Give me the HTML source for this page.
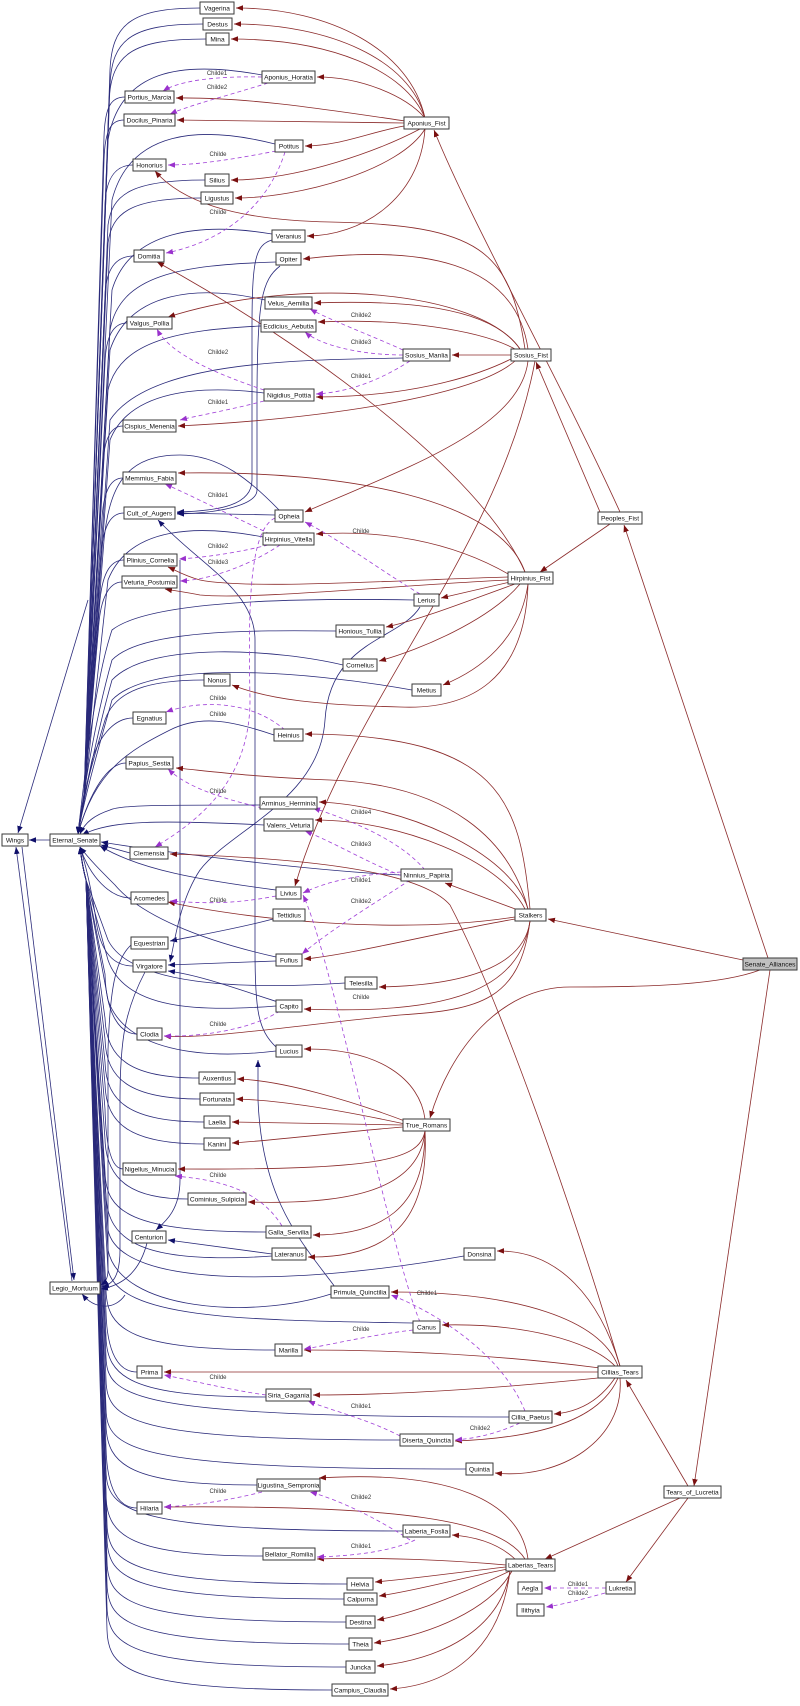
<!DOCTYPE html>
<html><head><meta charset="utf-8"><style>
html,body{margin:0;padding:0;background:#fff;width:800px;height:1706px;overflow:hidden}
svg{display:block}
.n rect{fill:#fff;stroke:#3a3a3a;stroke-width:1}
.n text{font-family:"Liberation Sans",sans-serif;font-size:6.6px;text-anchor:middle;fill:#111}
.r{fill:none;stroke:#8b2a2a;stroke-width:.8}
.b{fill:none;stroke:#2a2a7a;stroke-width:.8}
.p{fill:none;stroke:#a040d8;stroke-width:.8;stroke-dasharray:4,3}
.l{font-family:"Liberation Sans",sans-serif;font-size:6px;fill:#333;text-anchor:middle}
</style></head><body>
<svg width="800" height="1706" viewBox="0 0 800 1706" xmlns="http://www.w3.org/2000/svg">
<defs>
<marker id="mr" viewBox="0 0 10 10" refX="10" refY="5" markerWidth="7" markerHeight="7" orient="auto" markerUnits="userSpaceOnUse"><path d="M0,1L10,5L0,9z" fill="#7a1010"/></marker>
<marker id="mb" viewBox="0 0 10 10" refX="10" refY="5" markerWidth="7" markerHeight="7" orient="auto" markerUnits="userSpaceOnUse"><path d="M0,1L10,5L0,9z" fill="#10106a"/></marker>
<marker id="mp" viewBox="0 0 10 10" refX="10" refY="5" markerWidth="7" markerHeight="7" orient="auto" markerUnits="userSpaceOnUse"><path d="M0,1L10,5L0,9z" fill="#9a32cd"/></marker>
</defs>

<!-- BLUE edges to Eternal_Senate (above) -->
<g class="b" marker-end="url(#mb)">
<path d="M200,8 C130,8 112,25 110,70 L84,800 C81,815 79,825 78,834"/>
<path d="M203,24 C130,24 112,40 110,85 L84,800 C81,815 79,825 78,834"/>
<path d="M206,39 C130,39 112,55 109,100 L84,800 C81,815 79,825 78,834"/>
<path d="M262,75 C180,60 120,70 108,140 L84,800 C81,815 79,825 78,834"/>
<path d="M125,97 C112,97 105,105 104,137 L84,800 C81,815 79,825 78,834"/>
<path d="M124,120 C112,120 105,128 104,160 L84,800 C81,815 79,825 78,834"/>
<path d="M275,144 C200,125 130,130 112,200 L84,800 C81,815 79,825 78,834"/>
<path d="M133,165 C118,165 106,175 105,205 L84,800 C81,815 79,825 78,834"/>
<path d="M205,180 C130,180 112,195 108,225 L84,800 C81,815 79,825 78,834"/>
<path d="M201,198 C130,198 112,213 108,243 L84,800 C81,815 79,825 78,834"/>
<path d="M272,234 C200,222 130,230 112,290 L84,800 C81,815 79,825 78,834"/>
<path d="M134,256 C118,256 106,266 105,296 L84,800 C81,815 79,825 78,834"/>
<path d="M276,262 C180,265 120,275 110,330 L84,800 C81,815 79,825 78,834"/>
<path d="M265,300 C200,285 130,290 110,350 L84,800 C81,815 79,825 78,834"/>
<path d="M127,323 C115,323 106,333 105,363 L84,800 C81,815 79,825 78,834"/>
<path d="M261,326 C180,330 120,340 108,390 L84,800 C81,815 79,825 78,834"/>
<path d="M403,358 C300,360 150,360 110,420 L84,800 C81,815 79,825 78,834"/>
<path d="M264,393 C200,385 130,390 110,440 L84,800 C81,815 79,825 78,834"/>
<path d="M123,426 C112,426 104,436 103,466 L84,800 C81,815 79,825 78,834"/>
<path d="M123,478 C112,478 104,488 102,518 L84,800 C81,815 79,825 78,834"/>
<path d="M124,513 C112,513 104,523 101,553 L84,800 C81,815 79,825 78,834"/>
<path d="M280,511 C250,480 220,455 180,455 C130,455 110,480 104,540 L84,800 C81,815 79,825 78,834"/>
<path d="M263,537 C200,525 130,525 108,580 L84,800 C81,815 79,825 78,834"/>
<path d="M124,560 C112,560 103,570 100,600 L84,800 C81,815 79,825 78,834"/>
<path d="M122,582 C112,582 102,592 99,622 L84,800 C81,815 79,825 78,834"/>
<path d="M414,600 C300,598 150,600 112,630 C95,680 84,780 78,834"/>
<path d="M336,631 C250,630 140,630 112,660 C95,720 84,790 78,834"/>
<path d="M343,665 C280,650 150,640 112,680 C95,740 84,800 78,834"/>
<path d="M204,680 C150,680 115,690 105,720 C90,770 82,800 78,834"/>
<path d="M412,690 C300,670 150,660 112,700 C95,760 84,800 78,834"/>
<path d="M133,718 C112,718 98,740 92,760 C86,790 80,810 78,834"/>
<path d="M274,735 C230,720 200,715 170,730 C130,750 95,770 78,834"/>
<path d="M126,763 C108,763 90,791 78,834"/>
<path d="M260,805 C160,805 120,805 110,810 C95,815 85,822 80,834"/>
<path d="M264,825 C160,820 110,820 82,835"/>
</g>

<!-- BLUE edges to Eternal_Senate (below) -->
<g class="b" marker-end="url(#mb)">
<path d="M130,853 L101,845"/>
<path d="M401,875 C300,870 150,850 101,842"/>
<path d="M276,890 C200,880 140,870 100,846"/>
<path d="M131,898 C110,898 90,877 80,847"/>
<path d="M276,957 C200,940 140,915 115,885 C100,870 90,860 80,847"/>
<path d="M133,966 C112,966 100,950 96,920 C90,880 84,860 80,847"/>
<path d="M345,983 C240,990 130,985 108,940 L86,880 C82,865 81,855 80,847"/>
<path d="M276,1006 C200,1012 125,1010 108,960 L86,880 C82,865 81,855 80,847"/>
<path d="M137,1034 C120,1034 106,1014 105,974 L86,880 C82,865 81,855 80,847"/>
<path d="M276,1051 C200,1060 125,1050 108,1000 L86,880 C82,865 81,855 80,847"/>
<path d="M199,1078 C130,1078 106,1058 105,1018 L86,880 C82,865 81,855 80,847"/>
<path d="M200,1099 C130,1099 106,1079 105,1039 L86,880 C82,865 81,855 80,847"/>
<path d="M204,1122 C130,1122 106,1102 105,1062 L86,880 C82,865 81,855 80,847"/>
<path d="M204,1144 C130,1144 106,1124 105,1084 L86,880 C82,865 81,855 80,847"/>
<path d="M123,1169 C112,1169 106,1149 105,1109 L86,880 C82,865 81,855 80,847"/>
<path d="M188,1199 C130,1199 106,1179 105,1139 L86,880 C82,865 81,855 80,847"/>
<path d="M266,1232 C130,1232 106,1212 105,1172 L86,880 C82,865 81,855 80,847"/>
<path d="M272,1256 C140,1265 108,1240 106,1196 L86,880 C82,865 81,855 80,847"/>
<path d="M464,1256 C300,1285 120,1290 108,1230 L86,880 C82,865 81,855 80,847"/>
<path d="M331,1294 C250,1320 120,1310 108,1250 L86,880 C82,865 81,855 80,847"/>
<path d="M413,1323 C250,1320 120,1320 108,1270 L86,880 C82,865 81,855 80,847"/>
<path d="M275,1350 C130,1350 107,1330 106,1290 L86,880 C82,865 81,855 80,847"/>
<path d="M137,1372 C118,1372 107,1352 106,1312 L86,880 C82,865 81,855 80,847"/>
<path d="M266,1397 C130,1397 107,1377 106,1337 L86,880 C82,865 81,855 80,847"/>
<path d="M509,1417 C130,1417 107,1397 106,1357 L86,880 C82,865 81,855 80,847"/>
<path d="M400,1440 C130,1440 107,1420 106,1380 L86,880 C82,865 81,855 80,847"/>
<path d="M466,1469 C130,1469 107,1449 106,1409 L86,880 C82,865 81,855 80,847"/>
<path d="M257,1485 C130,1485 107,1465 106,1425 L86,880 C82,865 81,855 80,847"/>
<path d="M137,1508 C118,1508 107,1488 106,1448 L86,880 C82,865 81,855 80,847"/>
<path d="M403,1531 C130,1531 107,1511 106,1471 L86,880 C82,865 81,855 80,847"/>
<path d="M263,1556 C130,1556 107,1536 106,1496 L86,880 C82,865 81,855 80,847"/>
<path d="M347,1584 C130,1584 108,1564 107,1524 L86,880 C82,865 81,855 80,847"/>
<path d="M344,1599 C130,1599 108,1579 107,1539 L86,880 C82,865 81,855 80,847"/>
<path d="M346,1622 C130,1622 108,1602 107,1562 L86,880 C82,865 81,855 80,847"/>
<path d="M349,1644 C130,1644 108,1624 107,1584 L86,880 C82,865 81,855 80,847"/>
<path d="M346,1667 C130,1667 108,1647 107,1607 L86,880 C82,865 81,855 80,847"/>
<path d="M332,1690 C130,1690 108,1670 107,1630 L86,880 C82,865 81,855 80,847"/>
</g>

<!-- other BLUE edges -->
<g class="b" marker-end="url(#mb)">
<path d="M50,840 L29,840"/>
<path d="M72,1281 L16,847"/>
<path d="M22,847 L74,1280"/>
<path d="M88,600 L18,833"/>
<path d="M272,240 C255,245 252,260 252,330 L252,480 C252,505 220,511 177,512"/>
<path d="M280,266 C262,280 257,300 257,400 L257,490 C257,505 220,513 177,514"/>
<path d="M275,515 L177,513"/>
<path d="M276,1047 C258,1030 255,1010 255,950 L255,640 C255,590 200,565 158,520"/>
<path d="M335,1287 C300,1240 262,1200 258,1100 L258,1060"/>
<path d="M180,560 L180,1180 C180,1210 165,1222 156,1230"/>
<path d="M145,972 C125,1010 120,1040 120,1100 L120,1250 C120,1280 110,1285 102,1287"/>
<path d="M131,945 C115,960 110,990 108,1050 L108,1270 C108,1280 104,1283 101,1285"/>
<path d="M147,1243 C140,1270 125,1285 101,1289"/>
<path d="M272,1254 L168,1240"/>
<path d="M273,919 C240,928 200,935 170,941"/>
<path d="M276,961 L168,965"/>
<path d="M278,1002 C240,990 200,975 168,971"/>
<path d="M420,607 C400,640 330,640 325,720 C320,800 230,830 200,870 C180,900 175,940 170,962"/>
<path d="M125,1295 C115,1310 95,1310 82,1294"/>
</g>

<!-- RED edges -->
<g class="r" marker-end="url(#mr)">
<path d="M425,118 C410,50 330,8 236,8"/>
<path d="M425,118 C410,60 330,24 234,24"/>
<path d="M425,118 C405,70 330,39 231,39"/>
<path d="M425,118 C405,95 360,77 317,77"/>
<path d="M405,121 C330,110 250,97 176,98"/>
<path d="M404,123 L177,120"/>
<path d="M404,126 C370,132 340,146 305,146"/>
<path d="M420,129 C380,150 300,180 231,180"/>
<path d="M425,129 C400,170 300,198 235,198"/>
<path d="M425,129 C420,200 360,236 307,236"/>
<path d="M525,349 C510,250 480,225 330,222 C230,220 180,200 155,171"/>
<path d="M528,349 C515,260 420,245 303,259"/>
<path d="M520,349 C490,305 400,300 314,303"/>
<path d="M520,349 C480,290 300,275 168,317"/>
<path d="M515,349 C480,330 400,318 318,322"/>
<path d="M511,355 L452,355"/>
<path d="M513,358 C470,380 400,397 316,397"/>
<path d="M515,361 C470,400 300,420 178,426"/>
<path d="M528,361 C520,430 400,470 305,512"/>
<path d="M535,361 C500,550 350,700 295,886"/>
<path d="M620,512 C560,380 470,220 434,130"/>
<path d="M600,512 L536,362"/>
<path d="M610,524 L540,572"/>
<path d="M768,958 L624,525"/>
<path d="M743,960 L548,919"/>
<path d="M760,970 C720,985 650,987 570,987 C500,987 450,1050 430,1118"/>
<path d="M770,970 L694,1486"/>
<path d="M525,572 C480,470 300,340 157,262"/>
<path d="M525,572 C500,500 350,470 178,473"/>
<path d="M510,575 C450,540 380,530 316,534"/>
<path d="M508,577 C400,580 250,590 200,580 C185,576 175,570 168,567"/>
<path d="M508,580 C400,585 250,600 200,595 C185,592 170,590 165,589"/>
<path d="M510,582 L441,598"/>
<path d="M515,584 C470,600 420,620 386,627"/>
<path d="M520,584 C490,620 420,650 379,661"/>
<path d="M528,584 C520,640 480,670 443,685"/>
<path d="M528,584 C525,680 470,710 400,707 C320,705 270,700 232,685"/>
<path d="M530,909 C520,800 500,735 305,734"/>
<path d="M528,909 C510,840 450,785 330,780 C250,777 200,770 176,768"/>
<path d="M528,909 C510,850 400,805 319,802"/>
<path d="M525,909 C500,860 400,820 315,820"/>
<path d="M518,910 L445,883"/>
<path d="M515,917 C400,935 250,920 168,902"/>
<path d="M515,919 C450,930 350,955 304,959"/>
<path d="M530,921 C525,960 480,985 379,987"/>
<path d="M530,921 C520,990 450,1015 304,1009"/>
<path d="M530,921 C520,1000 480,1010 400,1015 C300,1025 200,1040 164,1036"/>
<path d="M425,1119 C420,1080 380,1048 304,1049"/>
<path d="M410,1123 C350,1100 280,1080 237,1079"/>
<path d="M405,1124 C340,1110 280,1100 236,1099"/>
<path d="M403,1125 L232,1122"/>
<path d="M403,1127 C340,1132 280,1140 232,1143"/>
<path d="M425,1131 C420,1160 380,1170 178,1169"/>
<path d="M425,1131 C420,1190 350,1205 248,1202"/>
<path d="M425,1131 C425,1210 380,1235 313,1235"/>
<path d="M425,1131 C430,1230 380,1258 308,1257"/>
<path d="M620,1366 C570,1200 500,1000 450,905 C420,870 300,858 170,854"/>
<path d="M620,1366 C600,1300 560,1250 497,1251"/>
<path d="M618,1366 C600,1320 520,1292 391,1292"/>
<path d="M615,1366 C590,1340 520,1323 442,1325"/>
<path d="M600,1368 C500,1355 400,1350 304,1350"/>
<path d="M598,1372 L164,1372"/>
<path d="M598,1378 C500,1388 400,1395 313,1395"/>
<path d="M615,1378 C600,1400 580,1412 554,1414"/>
<path d="M618,1378 C600,1420 540,1438 455,1441"/>
<path d="M620,1378 C625,1440 560,1480 495,1473"/>
<path d="M688,1486 L626,1380"/>
<path d="M680,1498 L545,1559"/>
<path d="M688,1498 L626,1582"/>
<path d="M528,1559 C520,1500 450,1470 319,1478"/>
<path d="M525,1559 C500,1520 400,1505 164,1507"/>
<path d="M515,1559 C500,1545 480,1537 452,1535"/>
<path d="M506,1565 C450,1560 380,1557 317,1559"/>
<path d="M506,1567 C460,1572 420,1578 375,1582"/>
<path d="M508,1569 C460,1578 420,1590 379,1596"/>
<path d="M510,1571 C470,1590 420,1612 377,1620"/>
<path d="M512,1571 C490,1610 430,1635 374,1643"/>
<path d="M510,1571 C500,1630 440,1660 377,1666"/>
<path d="M510,1571 C500,1650 450,1685 390,1689"/>
</g>

<!-- PURPLE dashed -->
<g class="p" marker-end="url(#mp)">
<path d="M262,77 C220,76 180,80 163,91"/>
<path d="M268,83 C230,95 190,105 170,114"/>
<path d="M276,151 C240,158 200,165 168,165"/>
<path d="M285,152 C270,200 230,240 166,253"/>
<path d="M403,350 C370,335 330,320 310,309"/>
<path d="M403,355 C360,355 320,345 305,332"/>
<path d="M410,361 C380,380 350,392 316,394"/>
<path d="M264,390 C220,375 170,355 157,329"/>
<path d="M264,401 C230,410 200,415 180,420"/>
<path d="M270,534 C230,515 190,495 165,484"/>
<path d="M268,545 C240,552 210,557 179,559"/>
<path d="M280,545 C250,565 210,580 180,581"/>
<path d="M420,594 C380,570 340,540 305,522"/>
<path d="M275,518 C250,530 248,600 250,700 C250,780 200,820 155,847"/>
<path d="M285,730 C250,700 200,700 166,712"/>
<path d="M262,808 C230,800 190,790 168,769"/>
<path d="M425,870 C400,840 350,820 313,808"/>
<path d="M415,880 C380,870 340,845 305,831"/>
<path d="M401,872 C360,875 330,880 303,893"/>
<path d="M410,880 C380,900 330,930 302,954"/>
<path d="M276,896 C230,905 200,903 170,901"/>
<path d="M280,1011 C250,1030 200,1037 164,1036"/>
<path d="M282,1226 C260,1190 220,1180 175,1176"/>
<path d="M420,1322 C390,1250 330,950 303,895"/>
<path d="M413,1330 C370,1335 330,1345 304,1349"/>
<path d="M525,1411 C500,1350 430,1310 391,1295"/>
<path d="M520,1423 C500,1432 480,1438 455,1440"/>
<path d="M400,1436 C370,1420 330,1410 308,1401"/>
<path d="M266,1395 C230,1390 190,1380 164,1375"/>
<path d="M262,1492 C230,1500 200,1505 164,1507"/>
<path d="M410,1540 C380,1520 340,1500 310,1492"/>
<path d="M415,1540 C390,1552 350,1556 317,1557"/>
<path d="M606,1588 L544,1588"/>
<path d="M605,1593 C580,1600 560,1605 546,1607"/>
</g>

<!-- edge labels -->
<g class="l">
<text x="217" y="75">Childe1</text><text x="217" y="89">Childe2</text>
<text x="218" y="156">Childe</text><text x="218" y="214">Childe</text>
<text x="361" y="317">Childe2</text><text x="361" y="344">Childe3</text><text x="361" y="378">Childe1</text>
<text x="218" y="354">Childe2</text><text x="218" y="404">Childe1</text>
<text x="218" y="497">Childe1</text><text x="218" y="548">Childe2</text><text x="218" y="564">Childe3</text>
<text x="361" y="533">Childe</text>
<text x="218" y="700">Childe</text><text x="218" y="716">Childe</text>
<text x="218" y="793">Childe</text>
<text x="361" y="814">Childe4</text><text x="361" y="846">Childe3</text>
<text x="361" y="882">Childe1</text><text x="361" y="903">Childe2</text>
<text x="218" y="902">Childe</text>
<text x="361" y="999">Childe</text>
<text x="218" y="1026">Childe</text>
<text x="218" y="1177">Childe</text>
<text x="361" y="1331">Childe</text>
<text x="427" y="1295">Childe1</text>
<text x="218" y="1379">Childe</text>
<text x="361" y="1408">Childe1</text>
<text x="480" y="1430">Childe2</text>
<text x="218" y="1493">Childe</text>
<text x="361" y="1499">Childe2</text>
<text x="361" y="1548">Childe1</text>
<text x="578" y="1586">Childe1</text><text x="578" y="1595">Childe2</text>
</g>

<!-- NODES -->
<g class="n">
<rect x="200" y="2" width="34" height="12"/><text x="217" y="10.5">Vagerina</text>
<rect x="203" y="18" width="29" height="12"/><text x="217.5" y="26.5">Destus</text>
<rect x="206" y="33" width="23" height="12"/><text x="217.5" y="41.5">Mina</text>
<rect x="262" y="71" width="53" height="12"/><text x="288.5" y="79.5">Aponius_Horatia</text>
<rect x="125" y="91" width="49" height="12"/><text x="149.5" y="99.5">Portius_Marcia</text>
<rect x="124" y="114" width="51" height="12"/><text x="149.5" y="122.5">Docilus_Pinaria</text>
<rect x="275" y="140" width="28" height="12"/><text x="289" y="148.5">Potitus</text>
<rect x="133" y="159" width="33" height="12"/><text x="149.5" y="167.5">Honorius</text>
<rect x="205" y="174" width="24" height="12"/><text x="217" y="182.5">Silius</text>
<rect x="201" y="192" width="32" height="12"/><text x="217" y="200.5">Ligustus</text>
<rect x="272" y="230" width="33" height="12"/><text x="288.5" y="238.5">Veranius</text>
<rect x="134" y="250" width="30" height="12"/><text x="149" y="258.5">Domitia</text>
<rect x="276" y="253" width="25" height="12"/><text x="288.5" y="261.5">Opiter</text>
<rect x="265" y="297" width="47" height="12"/><text x="288.5" y="305.5">Velus_Aemilia</text>
<rect x="127" y="317" width="45" height="12"/><text x="149.5" y="325.5">Valgus_Pollia</text>
<rect x="261" y="320" width="55" height="12"/><text x="288.5" y="328.5">Ecdicius_Aebutia</text>
<rect x="264" y="389" width="50" height="12"/><text x="289" y="397.5">Nigidius_Pottia</text>
<rect x="123" y="420" width="53" height="12"/><text x="149.5" y="428.5">Cispius_Menenia</text>
<rect x="123" y="472" width="53" height="12"/><text x="149.5" y="480.5">Memmius_Fabia</text>
<rect x="124" y="507" width="51" height="12"/><text x="149.5" y="515.5">Cult_of_Augers</text>
<rect x="275" y="510" width="28" height="12"/><text x="289" y="518.5">Opheia</text>
<rect x="263" y="533" width="51" height="12"/><text x="288.5" y="541.5">Hirpinius_Vitella</text>
<rect x="124" y="554" width="53" height="12"/><text x="150.5" y="562.5">Plinius_Cornelia</text>
<rect x="122" y="576" width="55" height="12"/><text x="149.5" y="584.5">Veturia_Postumia</text>
<rect x="336" y="625" width="48" height="12"/><text x="360" y="633.5">Honious_Tullia</text>
<rect x="343" y="659" width="34" height="12"/><text x="360" y="667.5">Cornelius</text>
<rect x="204" y="674" width="26" height="12"/><text x="217" y="682.5">Nonus</text>
<rect x="133" y="712" width="33" height="12"/><text x="149.5" y="720.5">Egnatius</text>
<rect x="274" y="729" width="29" height="12"/><text x="288.5" y="737.5">Heinius</text>
<rect x="126" y="757" width="47" height="12"/><text x="149.5" y="765.5">Papius_Sestia</text>
<rect x="260" y="797" width="57" height="12"/><text x="288.5" y="805.5">Arminus_Herminia</text>
<rect x="264" y="819" width="49" height="12"/><text x="288.5" y="827.5">Valens_Veturia</text>
<rect x="2" y="834" width="26" height="12"/><text x="15" y="842.5">Wings</text>
<rect x="50" y="834" width="50" height="12"/><text x="75" y="842.5">Eternal_Senate</text>
<rect x="130" y="847" width="38" height="12"/><text x="149" y="855.5">Clemensia</text>
<rect x="404" y="117" width="45" height="12"/><text x="426.5" y="125.5">Aponius_Fist</text>
<rect x="403" y="349" width="47" height="12"/><text x="426.5" y="357.5">Sosius_Manlia</text>
<rect x="511" y="349" width="40" height="12"/><text x="531" y="357.5">Sosius_Fist</text>
<rect x="598" y="512" width="44" height="12"/><text x="620" y="520.5">Peoples_Fist</text>
<rect x="508" y="572" width="45" height="12"/><text x="530.5" y="580.5">Hirpinius_Fist</text>
<rect x="414" y="594" width="25" height="12"/><text x="426.5" y="602.5">Lerius</text>
<rect x="412" y="684" width="29" height="12"/><text x="426.5" y="692.5">Metius</text>
<rect x="276" y="887" width="25" height="12"/><text x="288.5" y="895.5">Livius</text>
<rect x="131" y="892" width="37" height="12"/><text x="149.5" y="900.5">Acomedes</text>
<rect x="273" y="909" width="32" height="12"/><text x="289" y="917.5">Tettidius</text>
<rect x="131" y="937" width="37" height="12"/><text x="149.5" y="945.5">Equestrian</text>
<rect x="133" y="960" width="33" height="12"/><text x="149.5" y="968.5">Virgatore</text>
<rect x="276" y="954" width="26" height="12"/><text x="289" y="962.5">Fufius</text>
<rect x="345" y="977" width="32" height="12"/><text x="361" y="985.5">Telesilla</text>
<rect x="276" y="1000" width="26" height="12"/><text x="289" y="1008.5">Capito</text>
<rect x="137" y="1028" width="25" height="12"/><text x="149.5" y="1036.5">Clodia</text>
<rect x="276" y="1045" width="26" height="12"/><text x="289" y="1053.5">Lucius</text>
<rect x="199" y="1072" width="36" height="12"/><text x="217" y="1080.5">Auxentius</text>
<rect x="200" y="1093" width="34" height="12"/><text x="217" y="1101.5">Fortunata</text>
<rect x="204" y="1116" width="26" height="12"/><text x="217" y="1124.5">Laelia</text>
<rect x="204" y="1138" width="26" height="12"/><text x="217" y="1146.5">Kanini</text>
<rect x="123" y="1163" width="53" height="12"/><text x="149.5" y="1171.5">Nigellus_Minucia</text>
<rect x="188" y="1193" width="58" height="12"/><text x="217" y="1201.5">Cominius_Sulpicia</text>
<rect x="266" y="1226" width="45" height="12"/><text x="288.5" y="1234.5">Galla_Servilia</text>
<rect x="132" y="1231" width="34" height="12"/><text x="149" y="1239.5">Centurion</text>
<rect x="272" y="1248" width="34" height="12"/><text x="289" y="1256.5">Lateranus</text>
<rect x="50" y="1282" width="50" height="12"/><text x="75" y="1290.5">Legio_Mortuum</text>
<rect x="401" y="869" width="51" height="12"/><text x="426.5" y="877.5">Ninnius_Papiria</text>
<rect x="515" y="909" width="31" height="12"/><text x="530.5" y="917.5">Stalkers</text>
<rect x="743" y="958" width="54" height="12" style="fill:#c0c0c0"/><text x="770" y="966.5">Senate_Alliances</text>
<rect x="403" y="1119" width="47" height="12"/><text x="426.5" y="1127.5">True_Romans</text>
<rect x="464" y="1248" width="31" height="12"/><text x="479.5" y="1256.5">Donsina</text>
<rect x="331" y="1286" width="58" height="12"/><text x="360" y="1294.5">Primula_Quinctilia</text>
<rect x="275" y="1344" width="27" height="12"/><text x="288.5" y="1352.5">Marilla</text>
<rect x="137" y="1366" width="25" height="12"/><text x="149.5" y="1374.5">Prima</text>
<rect x="266" y="1389" width="45" height="12"/><text x="288.5" y="1397.5">Siria_Gagania</text>
<rect x="257" y="1479" width="63" height="12"/><text x="288.5" y="1487.5">Ligustina_Sempronia</text>
<rect x="137" y="1502" width="25" height="12"/><text x="149.5" y="1510.5">Hilaria</text>
<rect x="263" y="1548" width="52" height="12"/><text x="289" y="1556.5">Bellator_Romilia</text>
<rect x="347" y="1578" width="26" height="12"/><text x="360" y="1586.5">Helvia</text>
<rect x="344" y="1593" width="33" height="12"/><text x="360.5" y="1601.5">Calpurna</text>
<rect x="346" y="1616" width="29" height="12"/><text x="360.5" y="1624.5">Destina</text>
<rect x="349" y="1638" width="23" height="12"/><text x="360.5" y="1646.5">Theia</text>
<rect x="346" y="1661" width="29" height="12"/><text x="360.5" y="1669.5">Juncka</text>
<rect x="332" y="1684" width="56" height="12"/><text x="360" y="1692.5">Campius_Claudia</text>
<rect x="413" y="1321" width="27" height="12"/><text x="426.5" y="1329.5">Canus</text>
<rect x="598" y="1366" width="44" height="12"/><text x="620" y="1374.5">Cillias_Tears</text>
<rect x="509" y="1411" width="43" height="12"/><text x="530.5" y="1419.5">Cillia_Paetus</text>
<rect x="400" y="1434" width="53" height="12"/><text x="426.5" y="1442.5">Diserta_Quinctia</text>
<rect x="466" y="1463" width="27" height="12"/><text x="479.5" y="1471.5">Quintia</text>
<rect x="664" y="1486" width="57" height="12"/><text x="692.5" y="1494.5">Tears_of_Lucretia</text>
<rect x="403" y="1525" width="47" height="12"/><text x="426.5" y="1533.5">Laberia_Foslia</text>
<rect x="506" y="1559" width="49" height="12"/><text x="530.5" y="1567.5">Laberias_Tears</text>
<rect x="518" y="1582" width="24" height="12"/><text x="530" y="1590.5">Aegla</text>
<rect x="606" y="1582" width="29" height="12"/><text x="620.5" y="1590.5">Lukretia</text>
<rect x="517" y="1604" width="27" height="12"/><text x="530.5" y="1612.5">Ilithyia</text>
</g>
</svg>
</body></html>
